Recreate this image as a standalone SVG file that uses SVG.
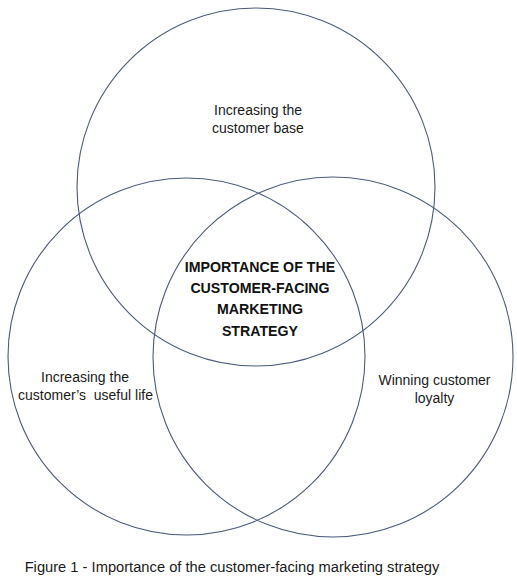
<svg xmlns="http://www.w3.org/2000/svg" width="517" height="578" viewBox="0 0 517 578">
<style>
.c{fill:none;stroke:#4a5a78;stroke-width:1.1}
.t{font-family:"Liberation Sans",Arial,sans-serif;font-size:14px;fill:#1a1a1a;text-anchor:middle}
.b{font-family:"Liberation Sans",Arial,sans-serif;font-size:14.2px;font-weight:bold;fill:#111;text-anchor:middle}
.cap{font-family:"Liberation Sans",Arial,sans-serif;font-size:14.7px;fill:#1a1a1a;text-anchor:middle}
</style>
<rect width="517" height="578" fill="#fff"/>
<g id="top"><circle class="c" cx="256" cy="187" r="179"/>
<text class="t" x="258" y="115">Increasing the</text>
<text class="t" x="258" y="133">customer base</text></g>
<g id="left"><circle class="c" cx="186.5" cy="356.5" r="178.5"/>
<text class="t" x="85" y="382">Increasing the</text>
<text class="t" x="85.5" y="400" xml:space="preserve">customer’s  useful life</text></g>
<g id="right"><circle class="c" cx="333" cy="357" r="180"/>
<text class="t" x="434.5" y="385">Winning customer</text>
<text class="t" x="434.5" y="403">loyalty</text></g>
<g id="center">
<text class="b" x="260" y="272">IMPORTANCE OF THE</text>
<text class="b" x="260" y="293">CUSTOMER-FACING</text>
<text class="b" x="260" y="314">MARKETING</text>
<text class="b" x="260" y="336">STRATEGY</text></g>
<g id="connectors"/>
<text class="cap" x="232" y="572">Figure 1 - Importance of the customer-facing marketing strategy</text>
</svg>
